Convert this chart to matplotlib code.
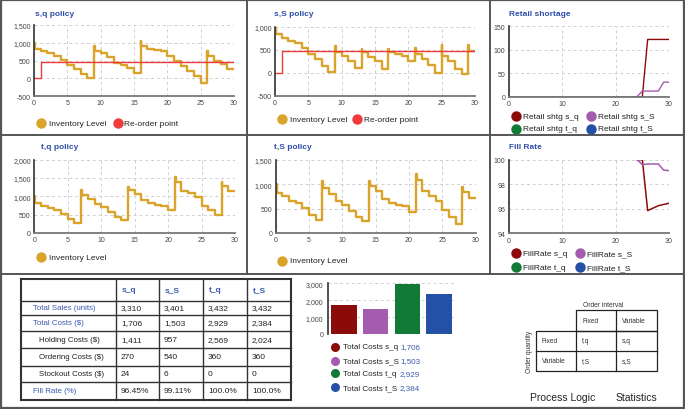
import matplotlib
matplotlib.use('Agg')
import matplotlib.pyplot as plt
from matplotlib.patches import Rectangle
from matplotlib.ticker import FuncFormatter, MultipleLocator, NullLocator

plt.rcParams['font.family'] = ['Liberation Sans', 'DejaVu Sans']

# ---- data ----
# inventory level held through each day (day 0..29), peaks on replenishment days
sq_level = [820, 755, 700, 630, 510, 380, 255, 130, 20,
            775, 705, 610, 440, 380, 300, 150,
            900, 830, 800, 760, 640, 490, 350, 210, 70, -122,
            640, 490, 400, 260]
sq_peak = {0: 1000, 9: 920, 16: 1050, 26: 778}
sq_reorder = [0] + [470] * 29

ss_level = [840, 760, 690, 640, 530, 400, 290, 150, 20,
            450, 370, 260, 100,
            460, 350, 260, 90,
            440, 410, 370, 250,
            400, 290, 160, -12,
            370, 260, 80, -19,
            470]
ss_peak = {0: 1000, 9: 590, 13: 520, 17: 525, 21: 535, 25: 600, 29: 610}
ss_reorder = [0] + [470] * 29

tq_level = [820, 746, 673, 628, 519, 382, 273,
            1040, 925, 800, 710, 580, 446, 360,
            1170, 1060, 900, 810, 770, 730, 630,
            1383, 1156, 1083, 974, 746, 628, 491,
            1292, 1156]
tq_peak = {0: 1000, 7: 1174, 14: 1262, 21: 1525, 28: 1390}

ts_level = [815, 747, 665, 617, 514, 377, 267,
            925, 801, 665, 582, 445, 322, 240,
            959, 856, 699, 610, 575, 548, 425,
            1089, 856, 767, 665, 473, 336, 185,
            836, 712]
ts_peak = {0: 1000, 7: 1062, 14: 1062, 21: 1212, 28: 938}

# cumulative retail shortage, days 0..30
shtg_days = list(range(31))
shtg_sq = [0] * 26 + [122, 122, 122, 122, 122]
shtg_sS = [0] * 25 + [12, 12, 12, 12, 31, 31]
shtg_tq = [0] * 31
shtg_tS = [0] * 31

# cumulative fill rate (%) from the first shortage on
fill_days = [24, 25, 26, 27, 28, 29, 30]
fill_sq = [100, 100, 95.85, 96.05, 96.25, 96.35, 96.45]
fill_sS = [100, 99.6, 99.65, 99.65, 99.65, 99.15, 99.11]

policies = ['s_q', 's_S', 't_q', 't_S']
row_labels = ['Total Sales (units)', 'Total Costs ($)', 'Holding Costs ($)',
              'Ordering Costs ($)', 'Stockout Costs ($)', 'Fill Rate (%)']
total_sales = [3310, 3401, 3432, 3432]
total_costs = [1706, 1503, 2929, 2384]
holding_costs = [1411, 957, 2569, 2024]
ordering_costs = [270, 540, 360, 360]
stockout_costs = [24, 6, 0, 0]
fill_rate = [96.45, 99.11, 100.0, 100.0]

GOLD = '#DAA32B'
RED = '#EE3B3B'
POL_COLORS = ['#8B0A0A', '#A35CAE', '#117A36', '#2450A5']
TITLE_BLUE = '#2D4FA8'
LABEL_BLUE = '#3B5BB0'

W, H = 685, 410
fig = plt.figure(figsize=(W / 100, H / 100), dpi=100)

# background axes in pixel coordinates for frames, tables and legends
bg = fig.add_axes([0, 0, 1, 1])
bg.set_xlim(0, W)
bg.set_ylim(H, 0)
bg.set_autoscale_on(False)
bg.axis('off')


def px_axes(x0, y0, x1, y1):
    return fig.add_axes([x0 / W, 1 - y1 / H, (x1 - x0) / W, (y1 - y0) / H])


def style(ax, xstep, ylim, ystep):
    ax.set_xlim(0, 30)
    ax.set_ylim(*ylim)
    ax.xaxis.set_major_locator(MultipleLocator(xstep))
    ax.yaxis.set_major_locator(MultipleLocator(ystep))
    ax.grid(True, color='#cfcfcf', ls=(0, (3, 3)), lw=0.7)
    ax.set_axisbelow(True)
    for s in ['top', 'right']:
        ax.spines[s].set_visible(False)
    ax.spines['left'].set_color('#333333')
    ax.spines['left'].set_linewidth(1.2)
    ax.spines['bottom'].set_color('#777777')
    ax.spines['bottom'].set_linewidth(1.3)
    ax.spines['bottom'].set_zorder(5)
    ax.tick_params(length=0, labelsize=5, colors='#444444', pad=2.5)
    ax.yaxis.set_major_formatter(FuncFormatter(lambda v, _: f'{v:,.0f}'))


def step_xy(level, peaks):
    xs, ys = [], []
    for day, v in enumerate(level):
        if day in peaks:
            xs += [day, day + 0.12]
            ys += [peaks[day], v]
        else:
            xs.append(day)
            ys.append(v)
    xs.append(len(level))
    ys.append(level[-1])
    return xs, ys


def legend_item(x, y, color, label, dx=7.5, ms=7.5, fs=6):
    bg.plot([x], [y], 'o', color=color, ms=ms, mec='none')
    bg.text(x + dx, y, label, fontsize=fs, va='center', ha='left', color='#222222')


def title(x, y, text):
    bg.text(x, y, text, fontsize=6, fontweight='bold', color=TITLE_BLUE,
            va='center', ha='left')


# ---- frames ----
bg.add_patch(Rectangle((1, 1), 683, 408, fill=False, ec='#555555', lw=1.6))
for y in [136, 275]:
    bg.plot([1, 684], [y, y], color='#555555', lw=1.4)
for x in [247, 490]:
    bg.plot([x, x], [1, 275], color='#555555', lw=1.4)

# ---- s,q policy ----
ax = px_axes(34, 26, 234, 97)
style(ax, 5, (-500, 1500), 500)
ax.plot(*step_xy(sq_level, sq_peak), drawstyle='steps-post', color=GOLD, lw=1.7)
ax.plot(list(range(31)), sq_reorder + [sq_reorder[-1]], drawstyle='steps-post', color=RED, lw=1)
title(35, 14, 's,q policy')
legend_item(41.3, 124.3, GOLD, 'Inventory Level')
legend_item(118.3, 124.3, RED, 'Re-order point', dx=6)

# ---- s,S policy ----
ax = px_axes(275, 27.7, 475, 96.7)
style(ax, 5, (-500, 1000), 500)
ax.plot(*step_xy(ss_level, ss_peak), drawstyle='steps-post', color=GOLD, lw=1.7)
ax.plot(list(range(31)), ss_reorder + [ss_reorder[-1]], drawstyle='steps-post', color=RED, lw=1)
title(274.3, 14, 's,S policy')
legend_item(282.3, 120, GOLD, 'Inventory Level')
legend_item(356.7, 120, RED, 'Re-order point')

# ---- Retail shortage ----
ax = px_axes(509, 27.3, 669, 97.7)
style(ax, 10, (0, 150), 50)
for vals, c in zip([shtg_tq, shtg_tS, shtg_sq, shtg_sS],
                   [POL_COLORS[2], POL_COLORS[3], POL_COLORS[0], POL_COLORS[1]]):
    ax.plot(shtg_days, vals, color=c, lw=1.0)
title(509, 14, 'Retail shortage')
for i, p in enumerate(policies):
    cx = 515.7 if i % 2 == 0 else 590.7
    cy = 117.3 if i < 2 else 130
    legend_item(cx, cy, POL_COLORS[i], f'Retail shtg {p}', dx=7)

# ---- t,q policy ----
ax = px_axes(34.3, 160.7, 235, 234)
style(ax, 5, (0, 2000), 500)
ax.plot(*step_xy(tq_level, tq_peak), drawstyle='steps-post', color=GOLD, lw=1.7)
title(41, 147.3, 't,q policy')
legend_item(41.3, 258.3, GOLD, 'Inventory Level')

# ---- t,S policy ----
ax = px_axes(275.7, 160.7, 475.7, 234)
style(ax, 5, (0, 1500), 500)
ax.plot(*step_xy(ts_level, ts_peak), drawstyle='steps-post', color=GOLD, lw=1.7)
title(274.3, 147.3, 't,S policy')
legend_item(282.3, 261.7, GOLD, 'Inventory Level')

# ---- Fill Rate ----
ax = px_axes(509, 160.7, 669, 234.3)
style(ax, 10, (94, 100), 2)
ax.plot(fill_days, fill_sq, color=POL_COLORS[0], lw=1.1)
ax.plot(fill_days, fill_sS, color=POL_COLORS[1], lw=1.1)
title(509, 148, 'Fill Rate')
for i, p in enumerate(policies):
    cx = 515.7 if i % 2 == 0 else 580
    cy = 254.3 if i < 2 else 268.3
    legend_item(cx, cy, POL_COLORS[i], f'FillRate {p}', dx=7)

# ---- statistics table ----
col_x = [21, 116, 159, 203, 247, 291]
row_y = [280, 302, 316, 332, 349, 367, 383, 401]
for i, y in enumerate(row_y):
    bg.plot([col_x[0], col_x[-1]], [y, y], color='#333333',
            lw=1.5 if i in (0, len(row_y) - 1) else 1.0)
for i, x in enumerate(col_x):
    bg.plot([x, x], [row_y[0], row_y[-1]], color='#333333',
            lw=1.5 if i in (0, len(col_x) - 1) else 1.0)

for j, p in enumerate(policies):
    bg.text(col_x[j + 1] + 6, (row_y[0] + row_y[1]) / 2, p, fontsize=6,
            fontweight='bold', color=LABEL_BLUE, va='center')

fill_txt = [f'{v:.2f}%' if v < 100 else f'{v:.1f}%' for v in fill_rate]
rows = [[f'{v:,}' for v in total_sales], [f'{v:,}' for v in total_costs],
        [f'{v:,}' for v in holding_costs], [f'{v:,}' for v in ordering_costs],
        [f'{v:,}' for v in stockout_costs], fill_txt]
for i, (lab, vals) in enumerate(zip(row_labels, rows)):
    yc = (row_y[i + 1] + row_y[i + 2]) / 2
    blue = i in (0, 1, 5)
    bg.text(33 if blue else 39, yc, lab, fontsize=5.7, va='center',
            color=LABEL_BLUE if blue else '#222222')
    for j, v in enumerate(vals):
        bg.text(col_x[j + 1] + 5, yc, v, fontsize=6, va='center', color='#222222')

# ---- total cost bars ----
ax = px_axes(328.3, 284.3, 455, 335)
ax.bar(range(len(policies)), total_costs, width=0.8, color=POL_COLORS)
ax.set_xlim(-0.5, len(policies) - 0.5)
ax.set_ylim(0, 3000)
ax.yaxis.set_major_locator(MultipleLocator(1000))
ax.yaxis.set_major_formatter(FuncFormatter(lambda v, _: f'{v:,.0f}'))
ax.xaxis.set_major_locator(NullLocator())
ax.grid(True, axis='y', color='#cfcfcf', ls=(0, (3, 3)), lw=0.7)
ax.set_axisbelow(True)
for s in ['top', 'right', 'bottom']:
    ax.spines[s].set_visible(False)
ax.spines['left'].set_color('#333333')
ax.spines['left'].set_linewidth(1.2)
ax.tick_params(length=0, labelsize=5, colors='#444444', pad=3.5)

for i, (p, v) in enumerate(zip(policies, total_costs)):
    cy = [347.7, 361.7, 374.3, 388.3][i]
    legend_item(335, cy, POL_COLORS[i], f'Total Costs {p}', dx=8, ms=6.5, fs=5.8)
    bg.text(400, cy, f'{v:,}', fontsize=5.8, va='center', color=LABEL_BLUE)

# ---- policy matrix ----
lc = '#222222'
bg.add_patch(Rectangle((576, 311), 81, 21, fill=False, ec=lc, lw=0.9))
bg.add_patch(Rectangle((536, 332), 121, 40, fill=False, ec=lc, lw=0.9))
bg.plot([616, 616], [311, 372], color=lc, lw=0.9)
bg.plot([576, 576], [332, 372], color=lc, lw=0.9)
bg.plot([536, 657], [352, 352], color=lc, lw=0.9)
fs_box = 4.8
bg.text(603, 305.5, 'Order interval', fontsize=fs_box, ha='center', va='center', color='#333333')
bg.text(530, 352, 'Order quantity', fontsize=fs_box, ha='center', va='center',
        rotation=90, color='#333333')
cells = [(583, 322, 'Fixed'), (622, 322, 'Variable'),
         (542, 342, 'Fixed'), (542, 362, 'Variable'),
         (582, 342, 't,q'), (622, 342, 's,q'),
         (582, 362, 't,S'), (622, 362, 's,S')]
for x, y, t in cells:
    bg.text(x, y, t, fontsize=fs_box, va='center', color='#333333')

bg.text(530, 398, 'Process Logic', fontsize=7.5, va='center', color='#222222')
bg.text(616, 398, 'Statistics', fontsize=7.5, va='center', color='#222222')

fig.savefig('out.png', dpi=100)
